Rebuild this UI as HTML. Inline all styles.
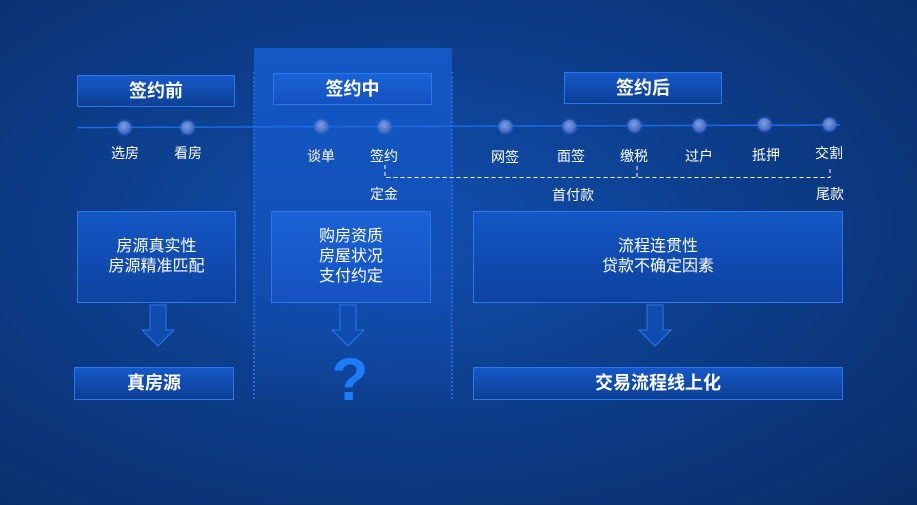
<!DOCTYPE html>
<html><head><meta charset="utf-8"><style>
*{margin:0;padding:0;box-sizing:border-box}
body{width:917px;height:505px;overflow:hidden;position:relative;font-family:"Liberation Sans","Noto Sans CJK SC",sans-serif;color:#fff;
background:radial-gradient(ellipse at 45% 45%,#114fae 0%,#0d3e8c 45%,#0a2c66 100%);}
.a{position:absolute}
.col{left:254px;top:48px;width:198px;height:360px;background:linear-gradient(#1458c4 0%,#1250b8 50%,rgba(18,80,184,0) 100%)}
.dot{border-left:2px dotted #1e6be0;width:0}
.tb{border:1px solid #2a78ea;background:linear-gradient(#1558c8,#0d3f94);font-weight:bold;font-size:18px;text-align:center}
.bx{border:1px solid #2a78ea;background:linear-gradient(#1356c4,#0e43a0);font-size:16px;text-align:center;display:flex;align-items:center;justify-content:center;line-height:20px}
.n{width:13px;height:13px;border-radius:50%;background:radial-gradient(circle at 45% 40%,#7e9fe0,#4a6fc8 60%,#2d57b8);box-shadow:0 0 3px #3a7af0}
.l{font-size:14px;width:60px;text-align:center}
</style></head><body>
<div class="a col"></div>
<div class="a dot" style="left:253px;top:72px;height:327px"></div>
<div class="a dot" style="left:451px;top:72px;height:327px"></div>

<div class="a tb" style="left:77px;top:75px;width:158px;height:32px;line-height:30px">签约前</div>
<div class="a tb" style="left:273px;top:73px;width:159px;height:32px;line-height:30px;background:linear-gradient(#1a62d6,#1452c0)">签约中</div>
<div class="a tb" style="left:564px;top:72px;width:158px;height:32px;line-height:30px">签约后</div>

<svg class="a" style="left:0;top:0" width="917" height="505">
<line x1="77" y1="127.5" x2="840" y2="125" stroke="#1a6ae8" stroke-width="1.5"/>
<polyline points="385,165 385,177.5 830,177.5 830,166" fill="none" stroke="#fff" stroke-width="1" stroke-dasharray="4,3"/>
<line x1="637" y1="166" x2="637" y2="177" stroke="#fff" stroke-dasharray="4,3"/>
<g fill="#0f4cb0" stroke="#2a78ea" stroke-width="1">
<path d="M150,305h16v25h8l-16,16l-16,-16h8z"/>
<path d="M340,305h16v25h8l-16,16l-16,-16h8z"/>
<path d="M647,305h16v25h8l-16,16l-16,-16h8z"/>
</g>
</svg>

<div class="a n" style="left:118px;top:121px"></div>
<div class="a n" style="left:181px;top:121px"></div>
<div class="a n" style="left:315px;top:120px"></div>
<div class="a n" style="left:378px;top:120px"></div>
<div class="a n" style="left:499px;top:120px"></div>
<div class="a n" style="left:563px;top:120px"></div>
<div class="a n" style="left:628px;top:119px"></div>
<div class="a n" style="left:693px;top:119px"></div>
<div class="a n" style="left:758px;top:118px"></div>
<div class="a n" style="left:823px;top:118px"></div>

<div class="a l" style="left:95px;top:143px">选房</div>
<div class="a l" style="left:158px;top:143px">看房</div>
<div class="a l" style="left:291px;top:146px">谈单</div>
<div class="a l" style="left:354px;top:146px">签约</div>
<div class="a l" style="left:475px;top:147px">网签</div>
<div class="a l" style="left:541px;top:146px">面签</div>
<div class="a l" style="left:604px;top:146px">缴税</div>
<div class="a l" style="left:669px;top:146px">过户</div>
<div class="a l" style="left:736px;top:145px">抵押</div>
<div class="a l" style="left:799px;top:143px">交割</div>
<div class="a l" style="left:354px;top:184px">定金</div>
<div class="a l" style="left:543px;top:185px">首付款</div>
<div class="a l" style="left:800px;top:184px">尾款</div>

<div class="a bx" style="left:77px;top:211px;width:159px;height:92px">房源真实性<br>房源精准匹配</div>
<div class="a bx" style="left:271px;top:211px;width:160px;height:92px;background:linear-gradient(#1a62d6,#1452c0)">购房资质<br>房屋状况<br>支付约定</div>
<div class="a bx" style="left:473px;top:211px;width:370px;height:92px">流程连贯性<br>贷款不确定因素</div>

<div class="a tb" style="left:74px;top:367px;width:160px;height:33px;line-height:31px">真房源</div>
<div class="a tb" style="left:473px;top:367px;width:370px;height:33px;line-height:31px">交易流程线上化</div>
<div class="a" style="left:330px;top:350px;width:40px;text-align:center;font-size:60px;font-weight:bold;color:#1a7cf7;line-height:60px">?</div>
</body></html>
